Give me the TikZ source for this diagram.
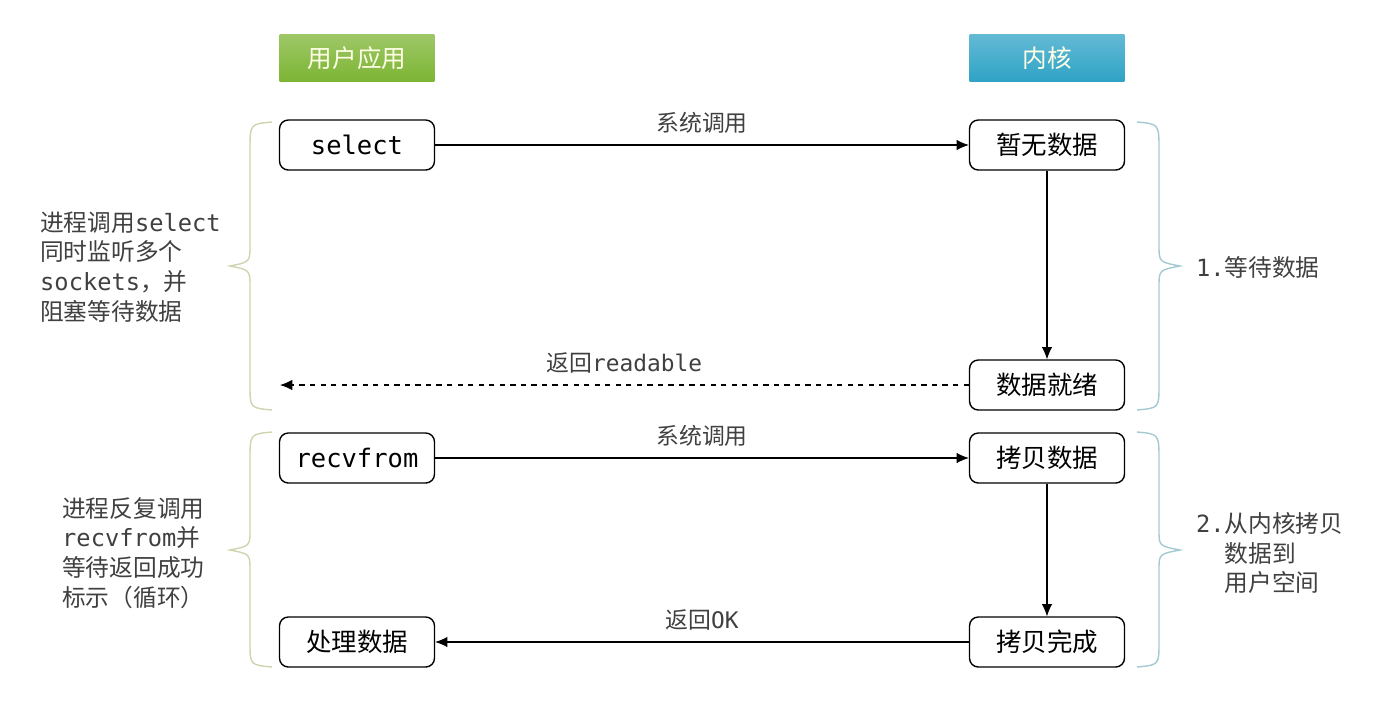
\documentclass[tikz,border=0pt]{standalone}
\usepackage{fontspec}
\setmainfont{DejaVu Sans Mono}
\newfontfamily\cjk{Noto Sans CJK SC}
\newcommand{\zh}[1]{{\cjk #1}}
\usetikzlibrary{arrows.meta}
\definecolor{appgreen}{HTML}{7DB534}
\definecolor{kernblue}{HTML}{2FA3C6}
\definecolor{leftbrace}{HTML}{CFD4AE}
\definecolor{rightbrace}{HTML}{A5C9D3}
\begin{document}
\begin{tikzpicture}
[x=0.02cm,y=-0.02cm,
  stepbox/.style={draw,thick,rounded corners=5pt,minimum width=3.1cm,minimum height=1cm,font=\fontsize{14.5}{16}\selectfont},
  headbox/.style={minimum width=3.1cm,minimum height=0.94cm,text=white!90!yellow,font=\cjk\fontsize{14}{16}\selectfont},
  msgline/.style={-{Latex[length=7pt,width=6pt]},semithick},
  msglabel/.style={font=\fontsize{13}{15}\selectfont,text=black!75},
  sidetext/.style={align=left,anchor=west,font=\fontsize{13.5}{17}\selectfont,text=black!75}]
\useasboundingbox (0,0) rectangle (1383,707);
% headers
\node (app) at (357,58) [headbox,top color=appgreen!75,bottom color=appgreen] {用户应用};
\node (kern) at (1047,58) [headbox,top color=kernblue!75,bottom color=kernblue] {内核};
% boxes
\node (sel) at (357,145) [stepbox] {select};
\node (nodata) at (1047,145) [stepbox] {\zh{暂无数据}};
\node (ready) at (1047,385) [stepbox] {\zh{数据就绪}};
\node (recv) at (357,458) [stepbox] {recvfrom};
\node (copy) at (1047,458) [stepbox] {\zh{拷贝数据}};
\node (done) at (1047,642) [stepbox] {\zh{拷贝完成}};
\node (proc) at (357,642) [stepbox] {\zh{处理数据}};
\coordinate (back) at (280,385);
% arrows
\draw[msgline] (sel) -- node[above=3pt,msglabel] {\zh{系统调用}} (nodata);
\draw[msgline] (nodata) -- (ready);
\draw[msgline,dashed] (ready) -- node[above=3pt,msglabel] {\zh{返回}readable} (back);
\draw[msgline] (recv) -- node[above=3pt,msglabel] {\zh{系统调用}} (copy);
\draw[msgline] (copy) -- (done);
\draw[msgline] (done) -- node[above=3pt,msglabel] {\zh{返回}OK} (proc);
% braces
\draw[leftbrace,thick] (272,122) .. controls (250,124) .. (250,150) -- (250,245) .. controls (250,262) .. (230,266)
  .. controls (250,270) .. (250,287) -- (250,385) .. controls (250,408) .. (272,410);
\draw[leftbrace,thick] (272,432) .. controls (250,434) .. (250,460) -- (250,530) .. controls (250,546) .. (230,550)
  .. controls (250,554) .. (250,570) -- (250,642) .. controls (250,665) .. (272,667);
\draw[rightbrace,thick] (1137,122) .. controls (1159,124) .. (1159,150) -- (1159,245) .. controls (1159,262) .. (1180,266)
  .. controls (1159,270) .. (1159,287) -- (1159,385) .. controls (1159,408) .. (1137,410);
\draw[rightbrace,thick] (1137,432) .. controls (1159,434) .. (1159,460) -- (1159,530) .. controls (1159,546) .. (1180,550)
  .. controls (1159,554) .. (1159,570) -- (1159,642) .. controls (1159,665) .. (1137,667);
% side texts
\node (note1) at (34,267) [sidetext] {\zh{进程调用}select\\\zh{同时监听多个}\\sockets\zh{，并}\\\zh{阻塞等待数据}};
\node (note2) at (56,553) [sidetext] {\zh{进程反复调用}\\recvfrom\zh{并}\\\zh{等待返回成功}\\\zh{标示（循环）}};
\node (step1) at (1190,267) [sidetext] {1.\zh{等待数据}};
\node (step2) at (1190,553) [sidetext] {2.\zh{从内核拷贝}\\\phantom{2.}\zh{数据到}\\\phantom{2.}\zh{用户空间}};
\end{tikzpicture}
\end{document}
